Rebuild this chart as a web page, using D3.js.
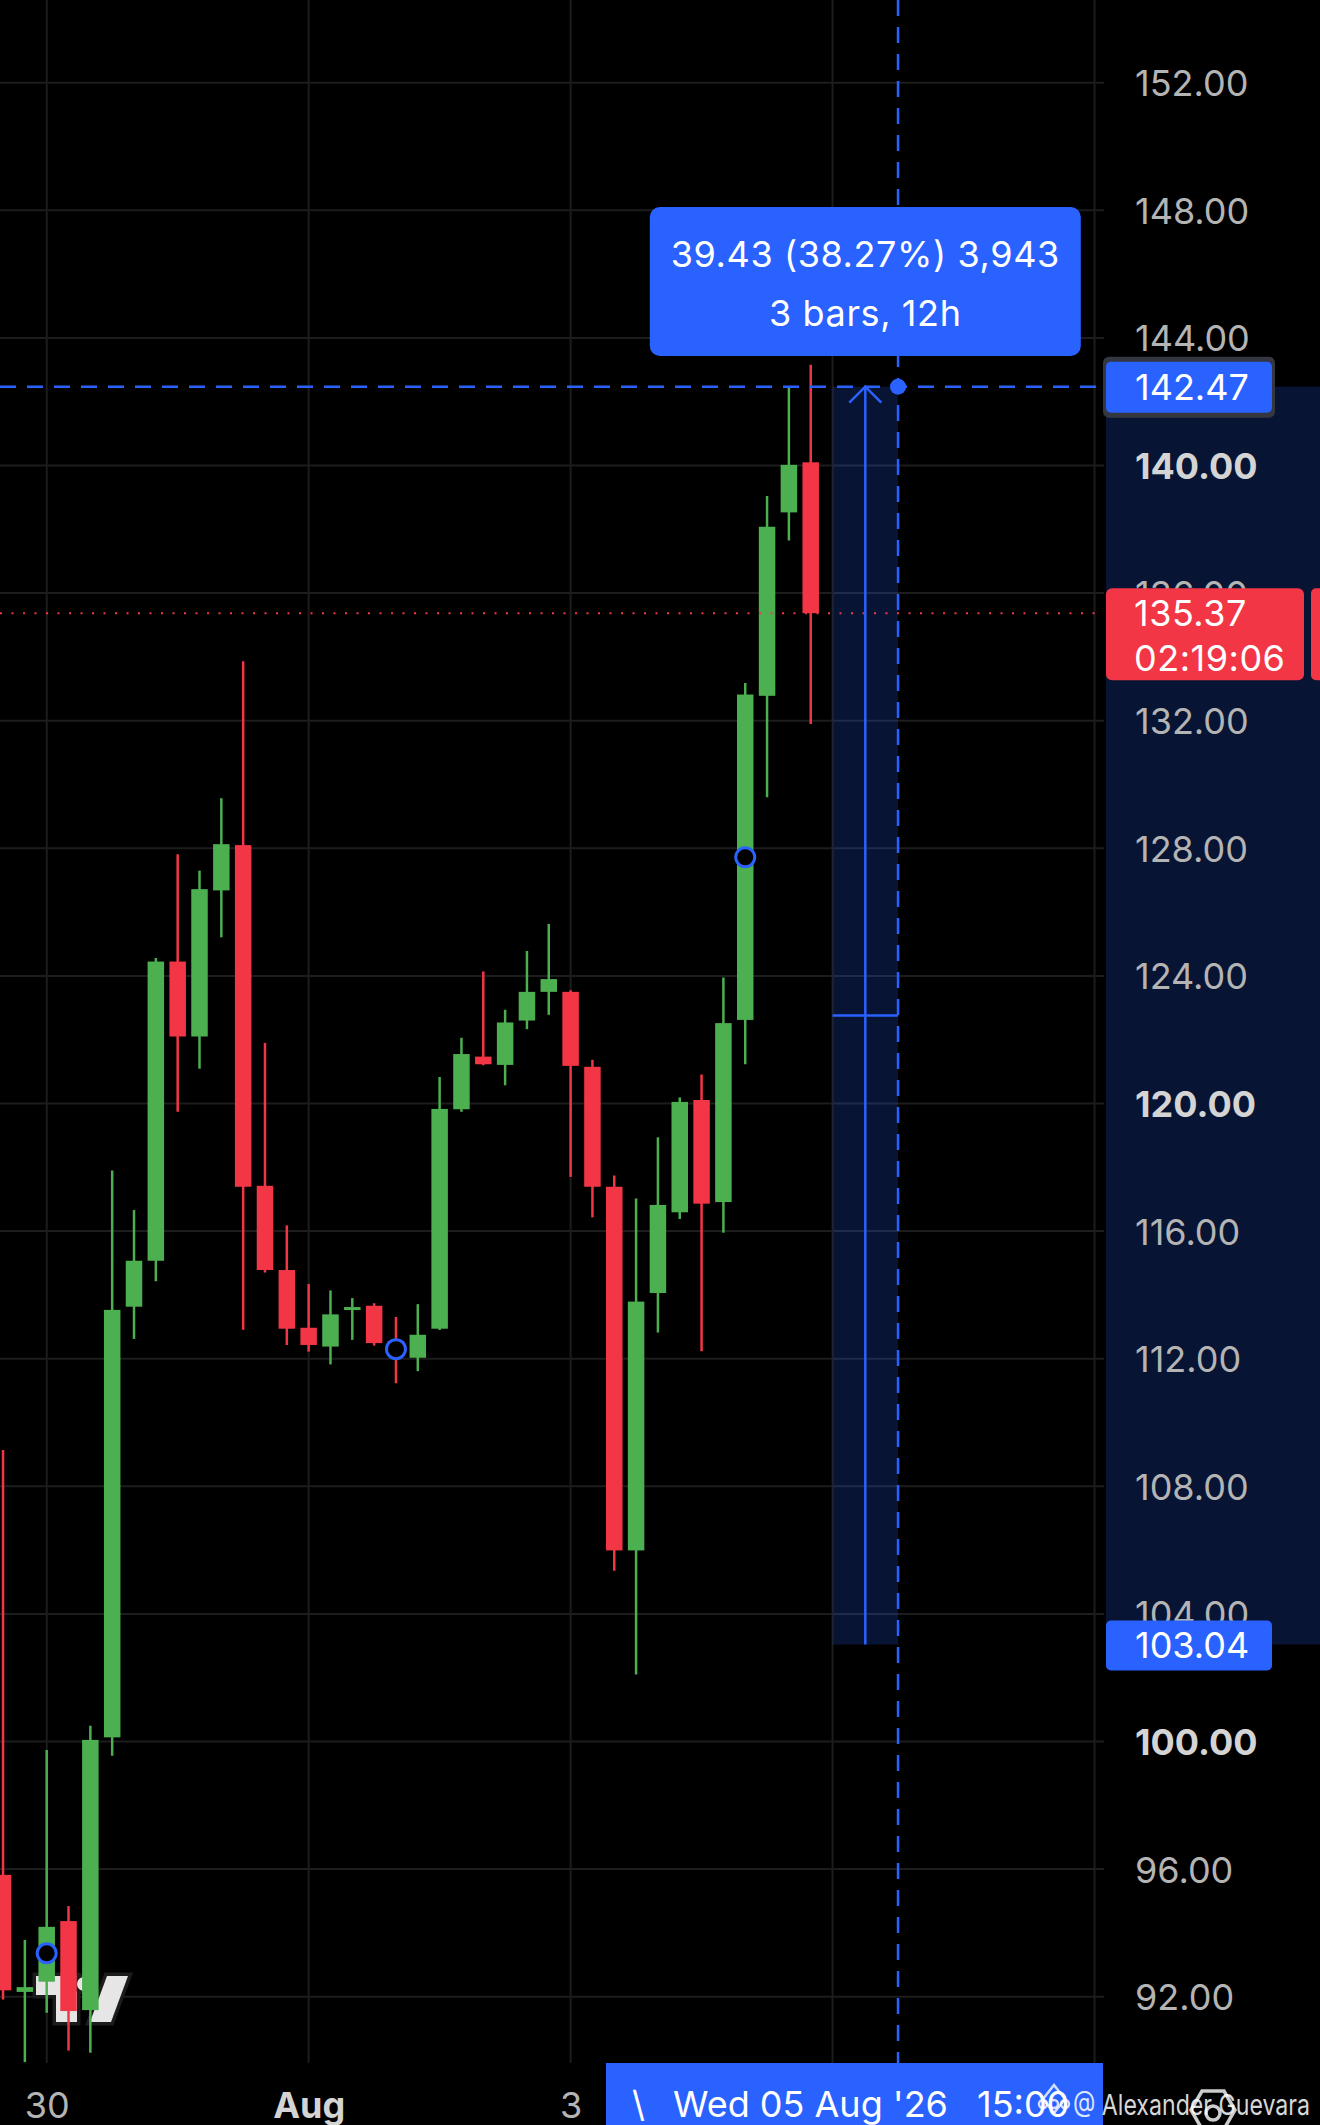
<!DOCTYPE html>
<html>
<head>
<meta charset="utf-8">
<script src="https://cdn.jsdelivr.net/npm/d3@7"></script>
<style>
    body { margin: 0; background: #000; }
    svg { display: block; }
</style>
</head>
<body>
<div id="chart"></div>
<script>
// DATA
// 4h candles, first one is Jul 29 19:00
var firstBar = new Date("2026-07-29T19:00:00Z");
var opens = [95.82, 92.15, 92.47, 94.37, 91.58, 100.13, 113.63, 115.07, 124.45, 122.10,
    126.68, 128.10, 117.42, 114.78, 112.97, 112.38, 113.55, 113.66, 112.55, 112.03,
    112.94, 119.82, 121.47, 121.21, 122.60, 123.50, 123.50, 121.15, 117.39, 105.99,
    114.06, 116.59, 120.11, 116.91, 122.62, 132.78, 138.53, 140.10];
var highs = [109.14, 93.78, 99.73, 94.84, 100.49, 117.90, 116.66, 124.56, 127.81, 127.30,
    129.57, 133.86, 121.90, 116.18, 114.34, 114.14, 113.90, 113.74, 113.31, 113.71,
    120.83, 122.06, 124.14, 122.94, 124.78, 125.63, 123.55, 121.37, 117.74, 117.02,
    118.94, 120.19, 120.91, 123.95, 133.18, 139.04, 142.47, 143.16];
var lows = [91.91, 89.95, 91.50, 90.31, 90.24, 99.55, 112.62, 114.43, 119.74, 121.09,
    125.21, 112.91, 114.70, 112.43, 112.22, 111.82, 112.59, 112.41, 111.23, 111.61,
    112.90, 119.74, 121.20, 120.57, 122.33, 122.78, 117.70, 116.43, 105.35, 102.10,
    112.82, 116.38, 112.23, 115.95, 121.23, 129.60, 137.65, 131.90];
var closes = [92.20, 92.30, 94.19, 91.55, 100.05, 113.53, 115.07, 124.45, 122.10, 126.72,
    128.13, 117.39, 114.78, 112.94, 112.43, 113.39, 113.62, 112.49, 112.15, 112.75,
    119.83, 121.55, 121.23, 122.54, 123.50, 123.90, 121.18, 117.39, 105.99, 113.79,
    116.82, 120.05, 116.86, 122.52, 132.82, 138.08, 140.02, 135.37];

// blue circle markers (bar index, price)
var markerBars = [2, 18, 34];
var markerPrices = [93.36, 112.30, 127.72];

// axes
var priceTicks = [92, 96, 100, 104, 108, 112, 116, 120, 124, 128, 132, 136, 140, 144, 148, 152];
var boldTicks = [100, 120, 140];
var dayLines = ["2026-07-30T03:00:00Z", "2026-08-01T03:00:00Z", "2026-08-03T03:00:00Z",
    "2026-08-05T03:00:00Z", "2026-08-07T03:00:00Z"];
var dayTicks = ["2026-07-30T03:00:00Z", "2026-08-01T03:00:00Z", "2026-08-03T03:00:00Z"];
var dayLabels = ["30", "Aug", "3"];

// last price + countdown
var lastPrice = 135.37;
var countdown = "02:19:06";

// price range measurement
var measureFrom = { time: "2026-08-05T03:00:00Z", price: 103.04 };
var measureTo = { time: "2026-08-05T15:00:00Z", price: 142.47 };
var measureText = ["39.43 (38.27%) 3,943", "3 bars, 12h"];
var crossDate = "Wed 05 Aug '26";
var crossClock = "15:00";
var author = "@ Alexander Guevara";

// SIZES
var svgWidth = 1320;
var svgHeight = 2125;
var plotRight = 1104;
var plotBottom = 2063;
var bodyW = 16.5;
var blue = "#2962ff";
var green = "#4caf50";
var red = "#f23645";
var font = "Inter, 'Noto Sans', sans-serif";

var svg = d3.select("#chart")
    .append("svg")
    .attr("width", svgWidth)
    .attr("height", svgHeight);

svg.append("rect")
    .attr("width", svgWidth)
    .attr("height", svgHeight)
    .attr("fill", "#000");

// SCALES
var x = d3.scaleUtc()
    .domain([firstBar, new Date("2026-08-07T03:00:00Z")])
    .range([3.04, 1094.5]);
var y = d3.scaleLinear()
    .domain([92, 152])
    .range([1996.7, 82.7]);

var bars = opens.map(function (o, i) {
    return {
        time: d3.utcHour.offset(firstBar, 4 * i),
        open: o,
        high: highs[i],
        low: lows[i],
        close: closes[i]
    };
});

// plot group, clipped to the chart pane
svg.append("clipPath").attr("id", "pane")
    .append("rect")
    .attr("width", plotRight)
    .attr("height", plotBottom);
var plot = svg.append("g").attr("clip-path", "url(#pane)");

// gridlines
plot.selectAll(".hgrid")
    .data(priceTicks)
    .enter().append("line")
    .attr("x1", 0).attr("x2", plotRight)
    .attr("y1", d => y(d)).attr("y2", d => y(d))
    .attr("stroke", "#1d1d1d")
    .attr("stroke-width", 2);
plot.selectAll(".vgrid")
    .data(dayLines)
    .enter().append("line")
    .attr("x1", d => x(new Date(d))).attr("x2", d => x(new Date(d)))
    .attr("y1", 0).attr("y2", plotBottom)
    .attr("stroke", "#1d1d1d")
    .attr("stroke-width", 2);

// measurement shading
var mx0 = x(new Date(measureFrom.time));
var mx1 = x(new Date(measureTo.time));
var my0 = y(measureFrom.price);
var my1 = y(measureTo.price);
plot.append("rect")
    .attr("x", mx0).attr("y", my1)
    .attr("width", mx1 - mx0).attr("height", my0 - my1)
    .attr("fill", blue)
    .attr("fill-opacity", 0.2);

// tradingview logo (behind the candles)
var logo = plot.append("g")
    .attr("fill", "#e6e6e6")
    .attr("stroke", "#1c1c1c")
    .attr("stroke-width", 7)
    .attr("paint-order", "stroke");
logo.append("path").attr("d", "M36,1976 H77 V2022 H56 V1995 H36 Z");
logo.append("circle").attr("cx", 84).attr("cy", 1984).attr("r", 7);
logo.append("path").attr("d", "M107,1976 H128 L111,2022 H90 Z");

// CANDLES
var candles = plot.selectAll(".candle")
    .data(bars)
    .enter().append("g")
    .attr("fill", d => d.close >= d.open ? green : red)
    .attr("stroke", d => d.close >= d.open ? green : red);
candles.append("line")
    .attr("x1", d => x(d.time)).attr("x2", d => x(d.time))
    .attr("y1", d => y(d.high)).attr("y2", d => y(d.low))
    .attr("stroke-width", 2.5);
candles.append("rect")
    .attr("x", d => x(d.time) - bodyW / 2)
    .attr("y", d => y(Math.max(d.open, d.close)))
    .attr("width", bodyW)
    .attr("height", d => Math.max(3, Math.abs(y(d.open) - y(d.close))))
    .attr("stroke", "none");

// circle markers
plot.selectAll(".marker")
    .data(markerBars)
    .enter().append("circle")
    .attr("cx", d => x(bars[d].time))
    .attr("cy", (d, i) => y(markerPrices[i]))
    .attr("r", 9.5)
    .attr("fill", "#000")
    .attr("stroke", blue)
    .attr("stroke-width", 3);

// last price dotted line
plot.append("line")
    .attr("x1", 0).attr("x2", plotRight)
    .attr("y1", y(lastPrice)).attr("y2", y(lastPrice))
    .attr("stroke", red)
    .attr("stroke-width", 2)
    .attr("stroke-dasharray", "2 9.5");

// crosshair
plot.append("line")
    .attr("x1", 0).attr("x2", plotRight)
    .attr("y1", my1).attr("y2", my1)
    .attr("stroke", blue)
    .attr("stroke-width", 2.5)
    .attr("stroke-dasharray", "16 11");
svg.append("line")
    .attr("x1", mx1).attr("x2", mx1)
    .attr("y1", 0).attr("y2", plotBottom)
    .attr("stroke", blue)
    .attr("stroke-width", 2.5)
    .attr("stroke-dasharray", "16 11");

// measurement arrow + mid line
var mxc = (mx0 + mx1) / 2;
plot.append("line")
    .attr("x1", mxc).attr("x2", mxc)
    .attr("y1", my0).attr("y2", my1)
    .attr("stroke", blue)
    .attr("stroke-width", 2.5);
plot.append("path")
    .attr("d", `M${mxc - 16},${my1 + 16} L${mxc},${my1} L${mxc + 16},${my1 + 16}`)
    .attr("fill", "none")
    .attr("stroke", blue)
    .attr("stroke-width", 2.5);
plot.append("line")
    .attr("x1", mx0).attr("x2", mx1)
    .attr("y1", y((measureFrom.price + measureTo.price) / 2))
    .attr("y2", y((measureFrom.price + measureTo.price) / 2))
    .attr("stroke", blue)
    .attr("stroke-width", 2.5);
svg.append("circle")
    .attr("cx", mx1).attr("cy", my1)
    .attr("r", 8)
    .attr("fill", blue);

// measurement tooltip
var tip = svg.append("g");
tip.append("rect")
    .attr("x", mxc - 215.5).attr("y", 207)
    .attr("width", 431).attr("height", 149)
    .attr("rx", 10)
    .attr("fill", blue);
tip.selectAll("text")
    .data(measureText)
    .enter().append("text")
    .attr("x", mxc)
    .attr("y", (d, i) => 267 + i * 59)
    .attr("text-anchor", "middle")
    .attr("font-family", font)
    .attr("font-size", 36)
    .attr("letter-spacing", 0.6)
    .attr("fill", "#fff")
    .text(d => d);

// PRICE SCALE
svg.append("rect")
    .attr("x", 1106).attr("y", my1)
    .attr("width", svgWidth - 1106).attr("height", my0 - my1)
    .attr("fill", blue)
    .attr("fill-opacity", 0.2);

var rightAxis = d3.axisRight(y)
    .tickValues(priceTicks)
    .tickFormat(d3.format(".2f"))
    .tickSize(0)
    .tickPadding(31);
var yAxis = svg.append("g")
    .attr("transform", `translate(${plotRight}, 0)`)
    .call(rightAxis);
yAxis.select(".domain").remove();
yAxis.selectAll("text")
    .attr("font-family", font)
    .attr("font-size", 36)
    .attr("dy", "0.36em")
    .attr("font-weight", d => boldTicks.indexOf(d) >= 0 ? 700 : 400)
    .attr("fill", d => boldTicks.indexOf(d) >= 0 ? "#d4d4d4" : "#b4b4b4");

// price labels
function priceLabel(price, top, h) {
    var g = svg.append("g");
    g.append("rect")
        .attr("x", 1106).attr("y", top)
        .attr("width", 166).attr("height", h)
        .attr("rx", 5)
        .attr("fill", blue);
    g.append("text")
        .attr("x", 1135).attr("y", y(price) + 13)
        .attr("font-family", font)
        .attr("font-size", 36)
        .attr("fill", "#fff")
        .text(d3.format(".2f")(price));
}
svg.append("rect")
    .attr("x", 1103).attr("y", my1 - 30)
    .attr("width", 172).attr("height", 61)
    .attr("rx", 6)
    .attr("fill", "#34373f");
priceLabel(measureTo.price, my1 - 25, 51);
priceLabel(measureFrom.price, my0 - 24, 50);

// last price label with countdown
svg.append("rect")
    .attr("x", 1311).attr("y", y(lastPrice) - 25)
    .attr("width", 14).attr("height", 92)
    .attr("rx", 5)
    .attr("fill", red);
svg.append("rect")
    .attr("x", 1106).attr("y", y(lastPrice) - 25)
    .attr("width", 198).attr("height", 92)
    .attr("rx", 6)
    .attr("fill", red);
svg.selectAll(".lastText")
    .data([d3.format(".2f")(lastPrice), countdown])
    .enter().append("text")
    .attr("x", 1134)
    .attr("y", (d, i) => y(lastPrice) + 13 + i * 45)
    .attr("font-family", font)
    .attr("font-size", 36)
    .attr("letter-spacing", 0.5)
    .attr("fill", "#fff")
    .text(d => d);

// TIME SCALE
var bottomAxis = d3.axisBottom(x)
    .tickValues(dayTicks.map(d => new Date(d)))
    .tickFormat((d, i) => dayLabels[i])
    .tickSize(0)
    .tickPadding(29);
var xAxis = svg.append("g")
    .attr("transform", `translate(0, ${plotBottom})`)
    .call(bottomAxis);
xAxis.select(".domain").remove();
xAxis.selectAll("text")
    .attr("font-family", font)
    .attr("font-size", 36)
    .attr("font-weight", (d, i) => dayLabels[i] === "Aug" ? 700 : 400)
    .attr("fill", (d, i) => dayLabels[i] === "Aug" ? "#d4d4d4" : "#b4b4b4");

// crosshair date label
svg.append("rect")
    .attr("x", 606).attr("y", plotBottom)
    .attr("width", 497).attr("height", svgHeight - plotBottom)
    .attr("fill", blue);
svg.selectAll(".crossText")
    .data([["\\", 632], [crossDate, 673], [crossClock, 977]])
    .enter().append("text")
    .attr("x", d => d[1])
    .attr("y", 2117)
    .attr("font-family", font)
    .attr("font-size", 36)
    .attr("fill", "#fff")
    .text(d => d[0]);

// author watermark
var mark = svg.append("g")
    .attr("fill", "none")
    .attr("stroke", "#fff")
    .attr("stroke-opacity", 0.8)
    .attr("stroke-width", 2.5);
mark.append("path").attr("d", "M1054,2085 L1065,2099 L1054,2113 L1043,2099 Z");
mark.selectAll(".dot")
    .data([1043, 1054, 1065])
    .enter().append("circle")
    .attr("cx", d => d).attr("cy", 2104).attr("r", 4);
mark.append("path")
    .attr("d", "M1191,2110 L1202,2091 L1224,2091 L1235,2110 L1224,2129 L1202,2129 Z")
    .attr("stroke-width", 3.5);
mark.append("circle").attr("cx", 1213).attr("cy", 2113).attr("r", 7).attr("stroke-width", 3.5);
svg.append("text")
    .attr("x", 1073).attr("y", 2115)
    .attr("font-family", font)
    .attr("font-size", 29)
    .attr("textLength", 237)
    .attr("lengthAdjust", "spacingAndGlyphs")
    .attr("fill", "#fff")
    .attr("fill-opacity", 0.85)
    .text(author);
</script>
</body>
</html>
